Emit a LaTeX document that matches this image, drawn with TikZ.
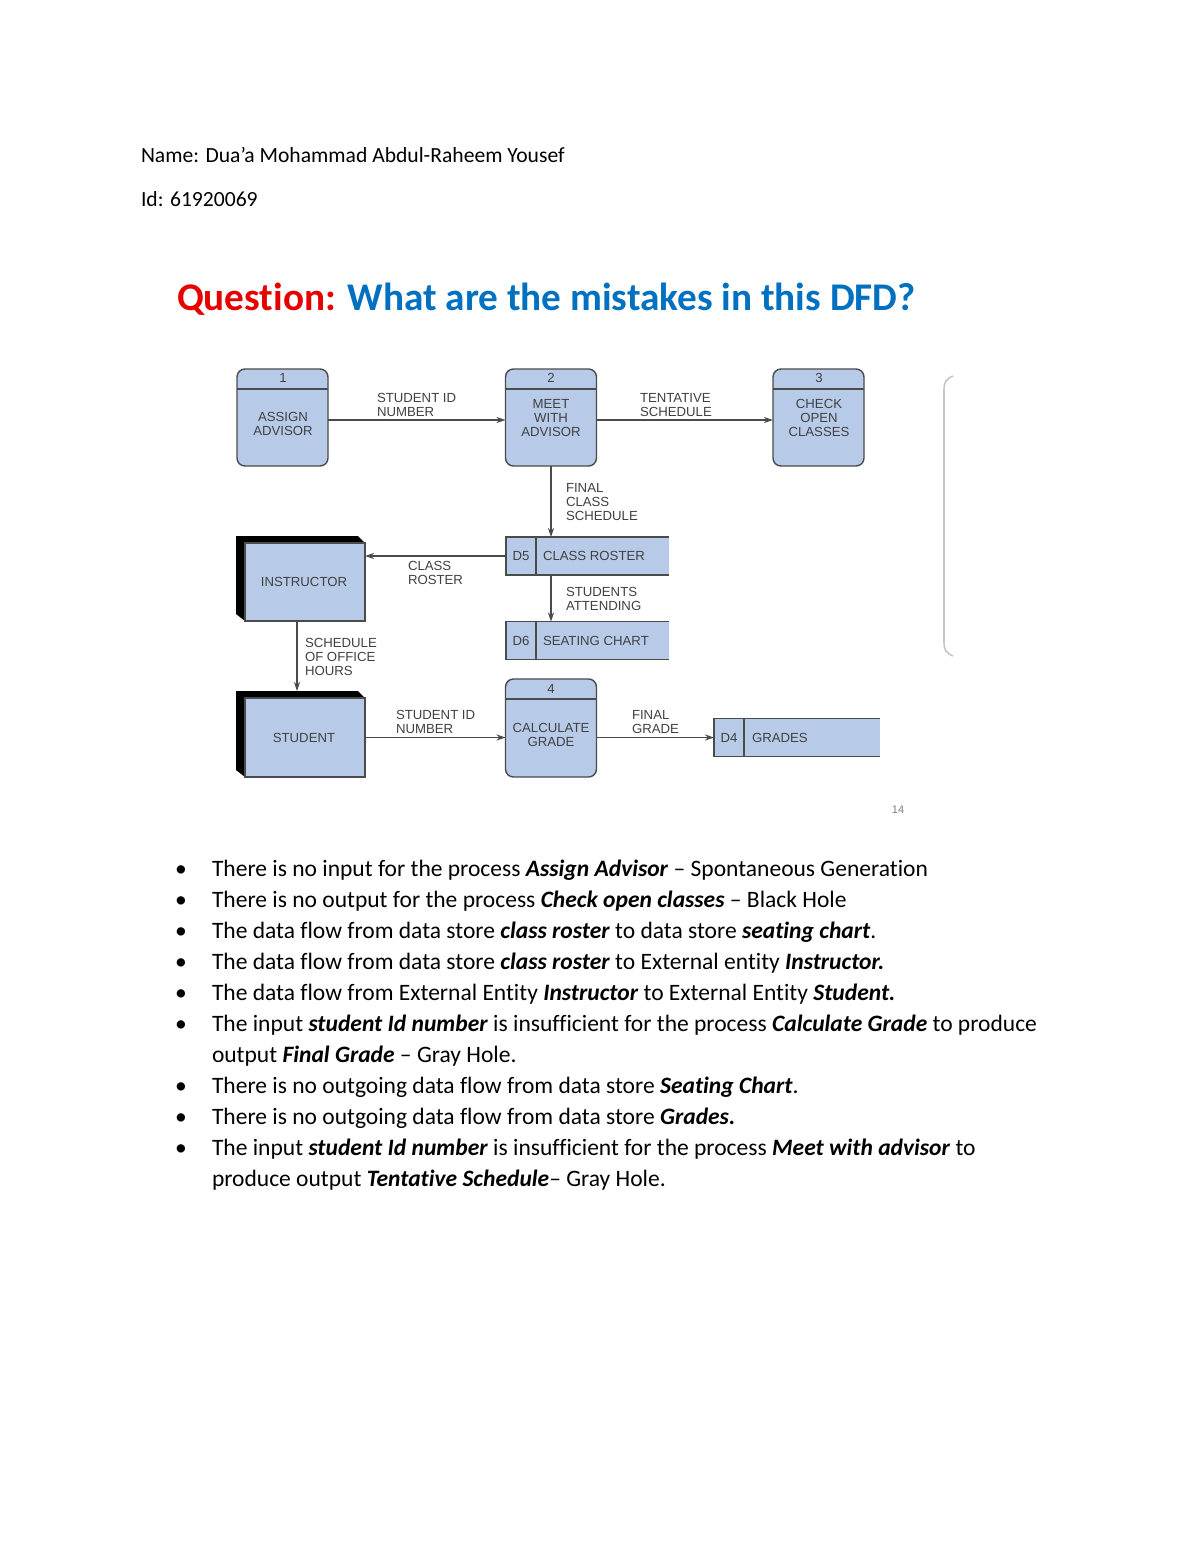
\documentclass[tikz,border=0pt]{standalone}
\usepackage{fontspec}
\setmainfont{Carlito}[Ligatures=NoCommon]
\newfontfamily\arialf{Liberation Sans}
\usetikzlibrary{calc,arrows.meta}
\definecolor{boxfill}{RGB}{183,203,233}
\definecolor{boxline}{RGB}{75,75,75}
\definecolor{dfdtext}{RGB}{65,65,65}
\definecolor{qred}{RGB}{230,0,0}
\definecolor{qblue}{RGB}{0,112,192}
\newcommand\bitx[1]{\textbf{\textit{#1}}}
\begin{document}
\begin{tikzpicture}[x=0.5pt,y=-0.5pt,
  every node/.style={inner sep=0pt,outer sep=0pt},
  proc/.style={draw=boxline,fill=boxfill,rounded corners=4pt,line width=0.7pt,minimum width=45.5pt,minimum height=48.5pt},
  dstore/.style={fill=boxfill,minimum height=19pt},
  entity/.style={draw=boxline,fill=boxfill,line width=0.7pt,minimum width=60pt,minimum height=39pt},
  dfd/.style={font=\arialf\fontsize{6.6}{6.8}\selectfont,text=dfdtext,align=center},
  lbl/.style={font=\arialf\fontsize{6.6}{7}\selectfont,text=dfdtext,align=left,anchor=base west},
  flow/.style={draw=boxline,line width=0.6pt,-{Stealth[length=4.5pt,width=3pt]}},
  ln/.style={draw=boxline,line width=0.7pt},
  body/.style={font=\fontsize{11.76}{14}\selectfont,anchor=base west},
  bul/.style={font=\fontsize{11.76}{14}\selectfont,anchor=base}
]
\useasboundingbox[fill=white] (0,0) rectangle (1200,1553);

% header
\node[anchor=base west,font=\fontsize{10.8}{13}\selectfont] (name) at (141,162) {Name: Dua’a Mohammad Abdul-Raheem Yousef};
\node[anchor=base west,font=\fontsize{10.8}{13}\selectfont] (idline) at (141,206) {Id: 61920069};
\node[anchor=base west,font=\bfseries\fontsize{19.6}{24}\selectfont] (title) at (177,310) {\textcolor{qred}{Question:} \textcolor{qblue}{What are the mistakes in this DFD?}};

% processes
\node[proc] (p1) at (282.5,417.5) {};
\node[proc] (p2) at (551,417.5) {};
\node[proc] (p3) at (818.5,417.5) {};
\node[proc,minimum height=49pt] (p4) at (551,728) {};
\foreach \p in {p1,p2,p3,p4}{
  \draw[ln] ($(\p.north west)+(0,20)$) -- ($(\p.north east)+(0,20)$);
}
\node[dfd] (p1n) at (283,378) {1};
\node[dfd] (p2n) at (551,378) {2};
\node[dfd] (p3n) at (819,378) {3};
\node[dfd] (p4n) at (551,689) {4};
\node[dfd] (p1t) at (283,424) {ASSIGN\\ADVISOR};
\node[dfd] (p2t) at (551,418) {MEET\\WITH\\ADVISOR};
\node[dfd] (p3t) at (819,418) {CHECK\\OPEN\\CLASSES};
\node[dfd] (p4t) at (551,735) {CALCULATE\\GRADE};

% data stores
\node[dstore,minimum width=81.5pt] (d5) at (587.5,556) {};
\node[dstore,minimum width=81.5pt] (d6) at (587.5,640.5) {};
\node[dstore,minimum width=83pt] (d4) at (797,737.5) {};
\foreach \d in {d5,d6,d4}{
  \draw[ln] (\d.north east) -- (\d.north west) -- (\d.south west) -- (\d.south east);
  \draw[ln] ($(\d.north west)+(30,0)$) -- ($(\d.south west)+(30,0)$);
}
\node[dfd] (d5id) at (521,556) {D5};
\node[dfd,anchor=west] (d5t) at (543,556) {CLASS ROSTER};
\node[dfd] (d6id) at (521,640.5) {D6};
\node[dfd,anchor=west] (d6t) at (543,640.5) {SEATING CHART};
\node[dfd] (d4id) at (729,737.5) {D4};
\node[dfd,anchor=west] (d4t) at (752,737.5) {GRADES};

% external entities
\node[entity] (inst) at (305,582) {};
\node[entity,minimum height=39.5pt] (stud) at (305,737.5) {};
\foreach \e in {inst,stud}{
  \fill[black] ($(\e.north west)+(-9,-7)$) -- ($(\e.north east)+(-7,-7)$) -- (\e.north east) -- (\e.north west) -- (\e.south west) -- ($(\e.south west)+(-9,-7)$) -- cycle;
  \draw[ln] (\e.north west) rectangle (\e.south east);
}
\node[dfd] (instt) at (304,582) {INSTRUCTOR};
\node[dfd] (studt) at (304,738) {STUDENT};

% flows
\draw[flow] ($(p1.east)+(0,2.5)$) -- ($(p2.west)+(0,2.5)$);
\draw[flow] ($(p2.east)+(0,2.5)$) -- ($(p3.west)+(0,2.5)$);
\draw[flow] (p2.south) -- (p2.south |- d5.north);
\draw[flow] (d5.west) -- (d5.west -| inst.east);
\draw[flow] ($(d5.south west)+(45,0)$) -- ($(d6.north west)+(45,0)$);
\draw[flow] ($(inst.south west)+(52,0)$) -- ($(stud.north west)+(52,-7)$);
\draw[flow] (stud.east) -- (stud.east -| p4.west);
\draw[flow] (p4.east |- d4.west) -- (d4.west);

% flow labels (y = baseline of last line)
\node[lbl] (l1) at (377,416) {STUDENT ID\\NUMBER};
\node[lbl] (l2) at (640,416) {TENTATIVE\\SCHEDULE};
\node[lbl] (l3) at (566,520) {FINAL\\CLASS\\SCHEDULE};
\node[lbl] (l4) at (408,584) {CLASS\\ROSTER};
\node[lbl] (l5) at (566,610) {STUDENTS\\ATTENDING};
\node[lbl] (l6) at (305,675) {SCHEDULE\\OF OFFICE\\HOURS};
\node[lbl] (l7) at (396,733) {STUDENT ID\\NUMBER};
\node[lbl] (l8) at (632,733) {FINAL\\GRADE};

% slide page number and bracket
\node[font=\arialf\fontsize{5.5}{6}\selectfont,text=gray] (pg) at (898,810) {14};
\draw[gray!45,line width=0.8pt] (953,376) .. controls (946,379) and (944,382) .. (944,390) -- (944,642) .. controls (944,650) and (946,653) .. (953,656);

% bullets
\foreach \y [count=\i] in {876,907,938,969,1000,1031,1093,1124,1155}{
  \node[bul] (dot\i) at (181,\y) {•};
}
\node[body] (t1) at (212,876) {There is no input for the process \bitx{Assign Advisor} – Spontaneous Generation};
\node[body] (t2) at (212,907) {There is no output for the process \bitx{Check open classes} – Black Hole};
\node[body] (t3) at (212,938) {The data flow from data store \bitx{class roster} to data store \bitx{seating chart}.};
\node[body] (t4) at (212,969) {The data flow from data store \bitx{class roster} to External entity \bitx{Instructor.}};
\node[body] (t5) at (212,1000) {The data flow from External Entity \bitx{Instructor} to External Entity \bitx{Student.}};
\node[body] (t6) at (212,1031) {The input \bitx{student Id number} is insufficient for the process \bitx{Calculate Grade} to produce};
\node[body] (t6b) at (212,1062) {output \bitx{Final Grade} – Gray Hole.};
\node[body] (t7) at (212,1093) {There is no outgoing data flow from data store \bitx{Seating Chart}.};
\node[body] (t8) at (212,1124) {There is no outgoing data flow from data store \bitx{Grades.}};
\node[body] (t9) at (212,1155) {The input \bitx{student Id number} is insufficient for the process \bitx{Meet with advisor} to};
\node[body] (t9b) at (212,1186) {produce output \bitx{Tentative Schedule}– Gray Hole.};
\end{tikzpicture}
\end{document}
